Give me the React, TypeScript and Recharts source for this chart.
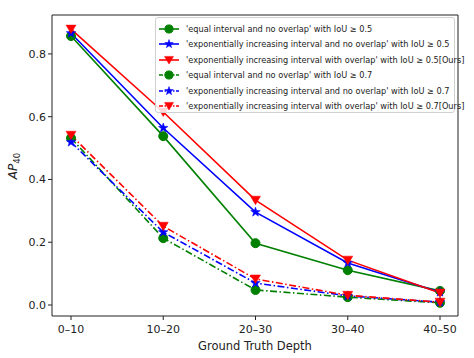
import React from 'react';
import { LineChart, Line, XAxis, YAxis } from 'recharts';

const depths = ['0–10', '10–20', '20–30', '30–40', '40–50'];
const equalNoOverlap05 = [0.857, 0.538, 0.197, 0.111, 0.045];
const expNoOverlap05 = [0.866, 0.564, 0.296, 0.134, 0.041];
const expOverlap05 = [0.879, 0.615, 0.334, 0.143, 0.038];
const equalNoOverlap07 = [0.532, 0.213, 0.048, 0.025, 0.007];
const expNoOverlap07 = [0.519, 0.232, 0.07, 0.029, 0.009];
const expOverlap07 = [0.541, 0.251, 0.083, 0.031, 0.009];
const yTicks = [0, 0.2, 0.4, 0.6, 0.8];

const labels = [
  "'equal interval and no overlap' with IoU ≥ 0.5",
  "'exponentially increasing interval and no overlap' with IoU ≥ 0.5",
  "'exponentially increasing interval with overlap' with IoU ≥ 0.5[Ours]",
  "'equal interval and no overlap' with IoU ≥ 0.7",
  "'exponentially increasing interval and no overlap' with IoU ≥ 0.7",
  "'exponentially increasing interval with overlap' with IoU ≥ 0.7[Ours]",
];

const data = depths.map((d, i) => ({
  depth: d,
  s1: equalNoOverlap05[i],
  s2: expNoOverlap05[i],
  s3: expOverlap05[i],
  s4: equalNoOverlap07[i],
  s5: expNoOverlap07[i],
  s6: expOverlap07[i],
}));

const GREEN = '#008000';
const BLUE = '#0000ff';
const RED = '#ff0000';
const DASHDOT = '7 2.5 1.5 2.5';

const series = [
  { key: 's1', color: GREEN, marker: 'circle', dash: undefined },
  { key: 's2', color: BLUE, marker: 'star', dash: undefined },
  { key: 's3', color: RED, marker: 'tri', dash: undefined },
  { key: 's4', color: GREEN, marker: 'circle', dash: DASHDOT },
  { key: 's5', color: BLUE, marker: 'star', dash: DASHDOT },
  { key: 's6', color: RED, marker: 'tri', dash: DASHDOT },
];

function starPoints(cx: number, cy: number, R: number) {
  const pts: string[] = [];
  for (let k = 0; k < 10; k++) {
    const r = k % 2 === 0 ? R : R * 0.4;
    const a = -Math.PI / 2 + (k * Math.PI) / 5;
    pts.push(`${cx + r * Math.cos(a)},${cy + r * Math.sin(a)}`);
  }
  return pts.join(' ');
}

function Marker({ cx, cy, type, color, scale = 1 }: { cx: number; cy: number; type: string; color: string; scale?: number }) {
  if (cx == null || cy == null) return null;
  if (type === 'circle') return <circle cx={cx} cy={cy} r={4.5 * scale} fill={color} stroke={color} strokeDasharray="none" />;
  if (type === 'star')
    return <polygon points={starPoints(cx, cy, 5 * scale)} fill={color} stroke={color} strokeWidth={0.5} strokeDasharray="none" />;
  const s = 5 * scale;
  return (
    <polygon
      points={`${cx - s},${cy - s * 0.8} ${cx + s},${cy - s * 0.8} ${cx},${cy + s * 0.9}`}
      fill={color}
      stroke={color}
      strokeWidth={0.5}
      strokeDasharray="none"
    />
  );
}

const YLabel = () => (
  <text transform="translate(17,166) rotate(-90)" textAnchor="middle" fontSize={12} fill="#222" fontFamily="DejaVu Sans">
    <tspan fontStyle="italic">AP</tspan>
    <tspan fontSize={8.5} dy={3}>40</tspan>
  </text>
);

export default function App() {
  return (
    <div style={{ position: 'absolute', left: 0, top: 0, width: 474, height: 358, background: '#fff', fontFamily: 'DejaVu Sans' }}>
      <LineChart width={474} height={358} data={data} margin={{ top: 14, right: 15, bottom: 0, left: 10 }}>
        <XAxis
          dataKey="depth"
          padding={{ left: 19, right: 18 }}
          tickSize={4}
          tick={{ fontSize: 11, fill: '#222', dy: 3 }}
          stroke="#222"
          height={42}
          label={{ value: 'Ground Truth Depth', position: 'insideBottom', offset: 8, style: { fontSize: 11.5, fill: '#222' } }}
        />
        <XAxis
          xAxisId="top"
          dataKey="depth"
          orientation="top"
          padding={{ left: 19, right: 18 }}
          tick={false}
          tickLine={false}
          height={1}
          stroke="#222"
        />
        <YAxis
          domain={[-0.035, 0.924]}
          ticks={yTicks}
          tickFormatter={(v: number) => v.toFixed(1)}
          tickSize={4}
          tick={{ fontSize: 11, fill: '#222' }}
          stroke="#222"
          width={42}
          label={<YLabel />}
        />
        <YAxis yAxisId="right" orientation="right" domain={[0, 1]} tick={false} tickLine={false} width={1} stroke="#222" />
        {series.map((s) => (
          <Line
            key={s.key}
            type="linear"
            dataKey={s.key}
            stroke={s.color}
            strokeWidth={1.6}
            strokeDasharray={s.dash}
            isAnimationActive={false}
            dot={(p: any) => <Marker key={`${s.key}-${p.index}`} cx={p.cx} cy={p.cy} type={s.marker} color={s.color} />}
            activeDot={false}
          />
        ))}
      </LineChart>
      <div
        style={{
          position: 'absolute',
          left: 155,
          top: 17,
          width: 300,
          height: 96,
          boxSizing: 'border-box',
          border: '1px solid #d0d0d0',
          borderRadius: 3,
          background: 'rgba(255,255,255,0.85)',
          padding: '3px 0 0 2px',
        }}
      >
        {series.map((s, i) => (
          <div key={s.key} style={{ display: 'flex', alignItems: 'center', height: 15.5, fontSize: 8.2, color: '#222', whiteSpace: 'nowrap' }}>
            <svg width={24} height={14} style={{ marginRight: 4, overflow: 'visible' }}>
              <line x1={1} y1={7} x2={21} y2={7} stroke={s.color} strokeWidth={1.6} strokeDasharray={s.dash ? '4 1.5 1.5 1.5' : undefined} />
              <Marker cx={11} cy={7} type={s.marker} color={s.color} scale={0.9} />
            </svg>
            <span>{labels[i]}</span>
          </div>
        ))}
      </div>
    </div>
  );
}
